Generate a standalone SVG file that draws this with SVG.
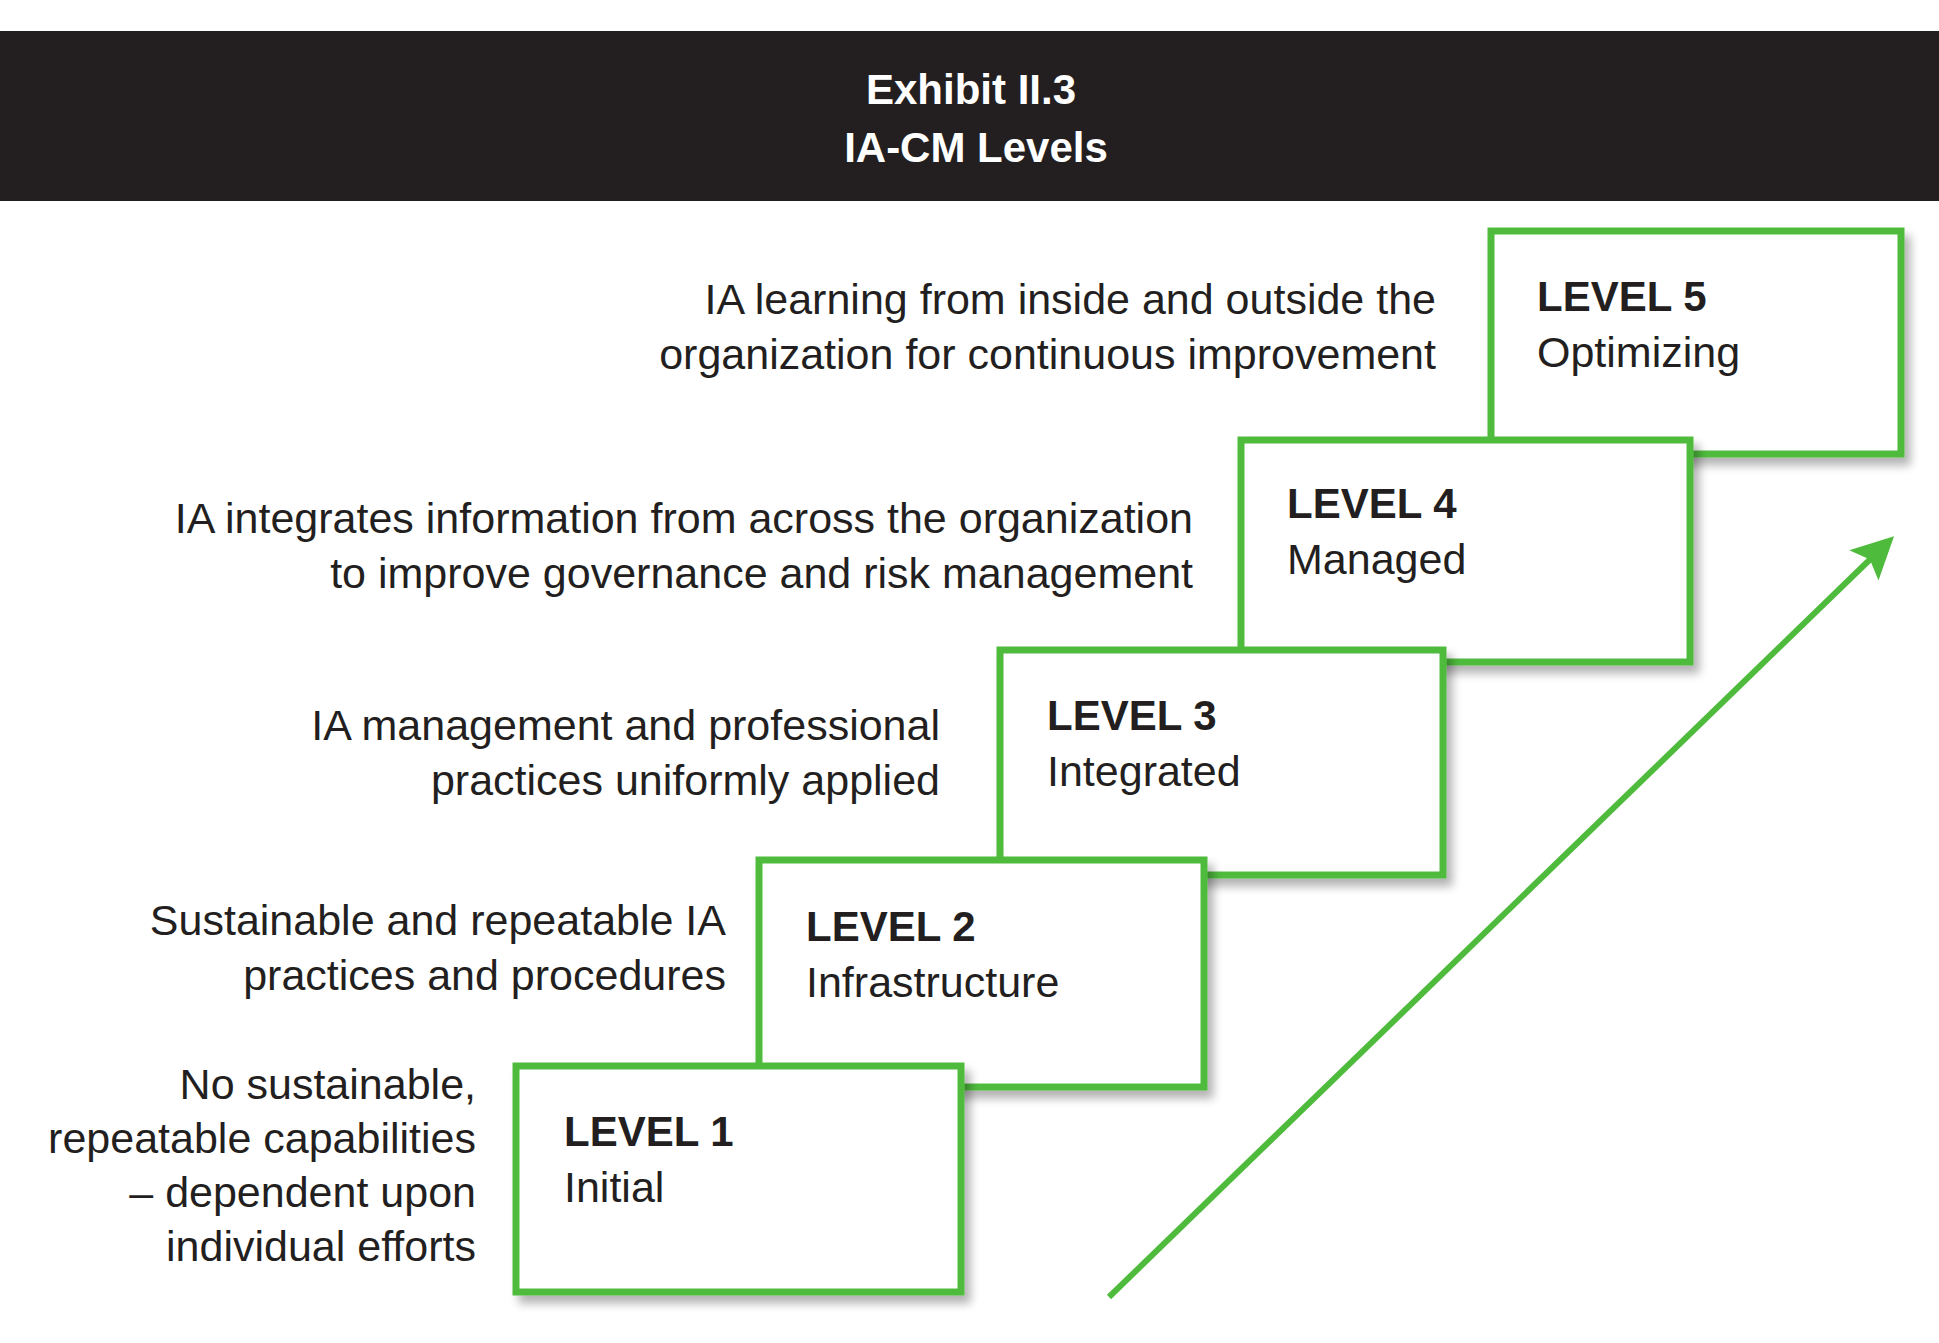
<svg xmlns="http://www.w3.org/2000/svg" width="1939" height="1343" viewBox="0 0 1939 1343">
<style>
.box{fill:#fff;stroke:#4fbb3c;stroke-width:7;filter:url(#sh)}
.t{font-family:"Liberation Sans",Arial,sans-serif;fill:#231f20}
.lv{font-size:42px;font-weight:bold}
.nm{font-size:43px}
.d{font-size:43px;text-anchor:end}
.h{font-family:"Liberation Sans",Arial,sans-serif;fill:#fff;font-size:42px;font-weight:bold;text-anchor:middle}
</style>
<defs>
<filter id="sh" x="-10%" y="-10%" width="130%" height="130%">
<feGaussianBlur in="SourceAlpha" stdDeviation="5"/>
<feOffset dx="6" dy="8"/>
<feComponentTransfer><feFuncA type="linear" slope="0.3"/></feComponentTransfer>
<feMerge><feMergeNode/><feMergeNode in="SourceGraphic"/></feMerge>
</filter>
<marker id="ah" viewBox="0 0 10 10" refX="8" refY="5" markerWidth="7" markerHeight="7" orient="auto" markerUnits="strokeWidth">
<path d="M0,0 L10,5 L0,10 L2,5 z" fill="#4fbb3c"/>
</marker>
</defs>
<rect width="1939" height="1343" fill="#fff"/>
<g id="header">
<rect x="0" y="31" width="1939" height="170" fill="#231f20"/>
<text class="h" x="971" y="104">Exhibit II.3</text>
<text class="h" x="976" y="162">IA-CM Levels</text>
</g>
<g id="connectors">
<line x1="1109" y1="1297" x2="1888" y2="542" stroke="#4fbb3c" stroke-width="6" marker-end="url(#ah)"/>
</g>
<g id="level5">
<rect class="box" x="1491" y="231" width="410" height="223"/>
<text class="t lv" x="1537" y="311">LEVEL 5</text>
<text class="t nm" x="1537" y="367">Optimizing</text>
</g>
<g id="level4">
<rect class="box" x="1241" y="440" width="449" height="222"/>
<text class="t lv" x="1287" y="518">LEVEL 4</text>
<text class="t nm" x="1287" y="574">Managed</text>
</g>
<g id="level3">
<rect class="box" x="1000" y="650" width="443" height="225"/>
<text class="t lv" x="1047" y="730">LEVEL 3</text>
<text class="t nm" x="1047" y="786">Integrated</text>
</g>
<g id="level2">
<rect class="box" x="759" y="860" width="445" height="227"/>
<text class="t lv" x="806" y="941">LEVEL 2</text>
<text class="t nm" x="806" y="997">Infrastructure</text>
</g>
<g id="level1">
<rect class="box" x="516" y="1066" width="445" height="226"/>
<text class="t lv" x="564" y="1146">LEVEL 1</text>
<text class="t nm" x="564" y="1202">Initial</text>
</g>
<g id="descriptions">
<text class="t d" x="1436" y="314">IA learning from inside and outside the</text>
<text class="t d" x="1436" y="369">organization for continuous improvement</text>
<text class="t d" x="1193" y="533">IA integrates information from across the organization</text>
<text class="t d" x="1193" y="588">to improve governance and risk management</text>
<text class="t d" x="940" y="740">IA management and professional</text>
<text class="t d" x="940" y="795">practices uniformly applied</text>
<text class="t d" x="726" y="935">Sustainable and repeatable IA</text>
<text class="t d" x="726" y="990">practices and procedures</text>
<text class="t d" x="476" y="1099">No sustainable,</text>
<text class="t d" x="476" y="1153">repeatable capabilities</text>
<text class="t d" x="476" y="1207">– dependent upon</text>
<text class="t d" x="476" y="1261">individual efforts</text>
</g>
</svg>
